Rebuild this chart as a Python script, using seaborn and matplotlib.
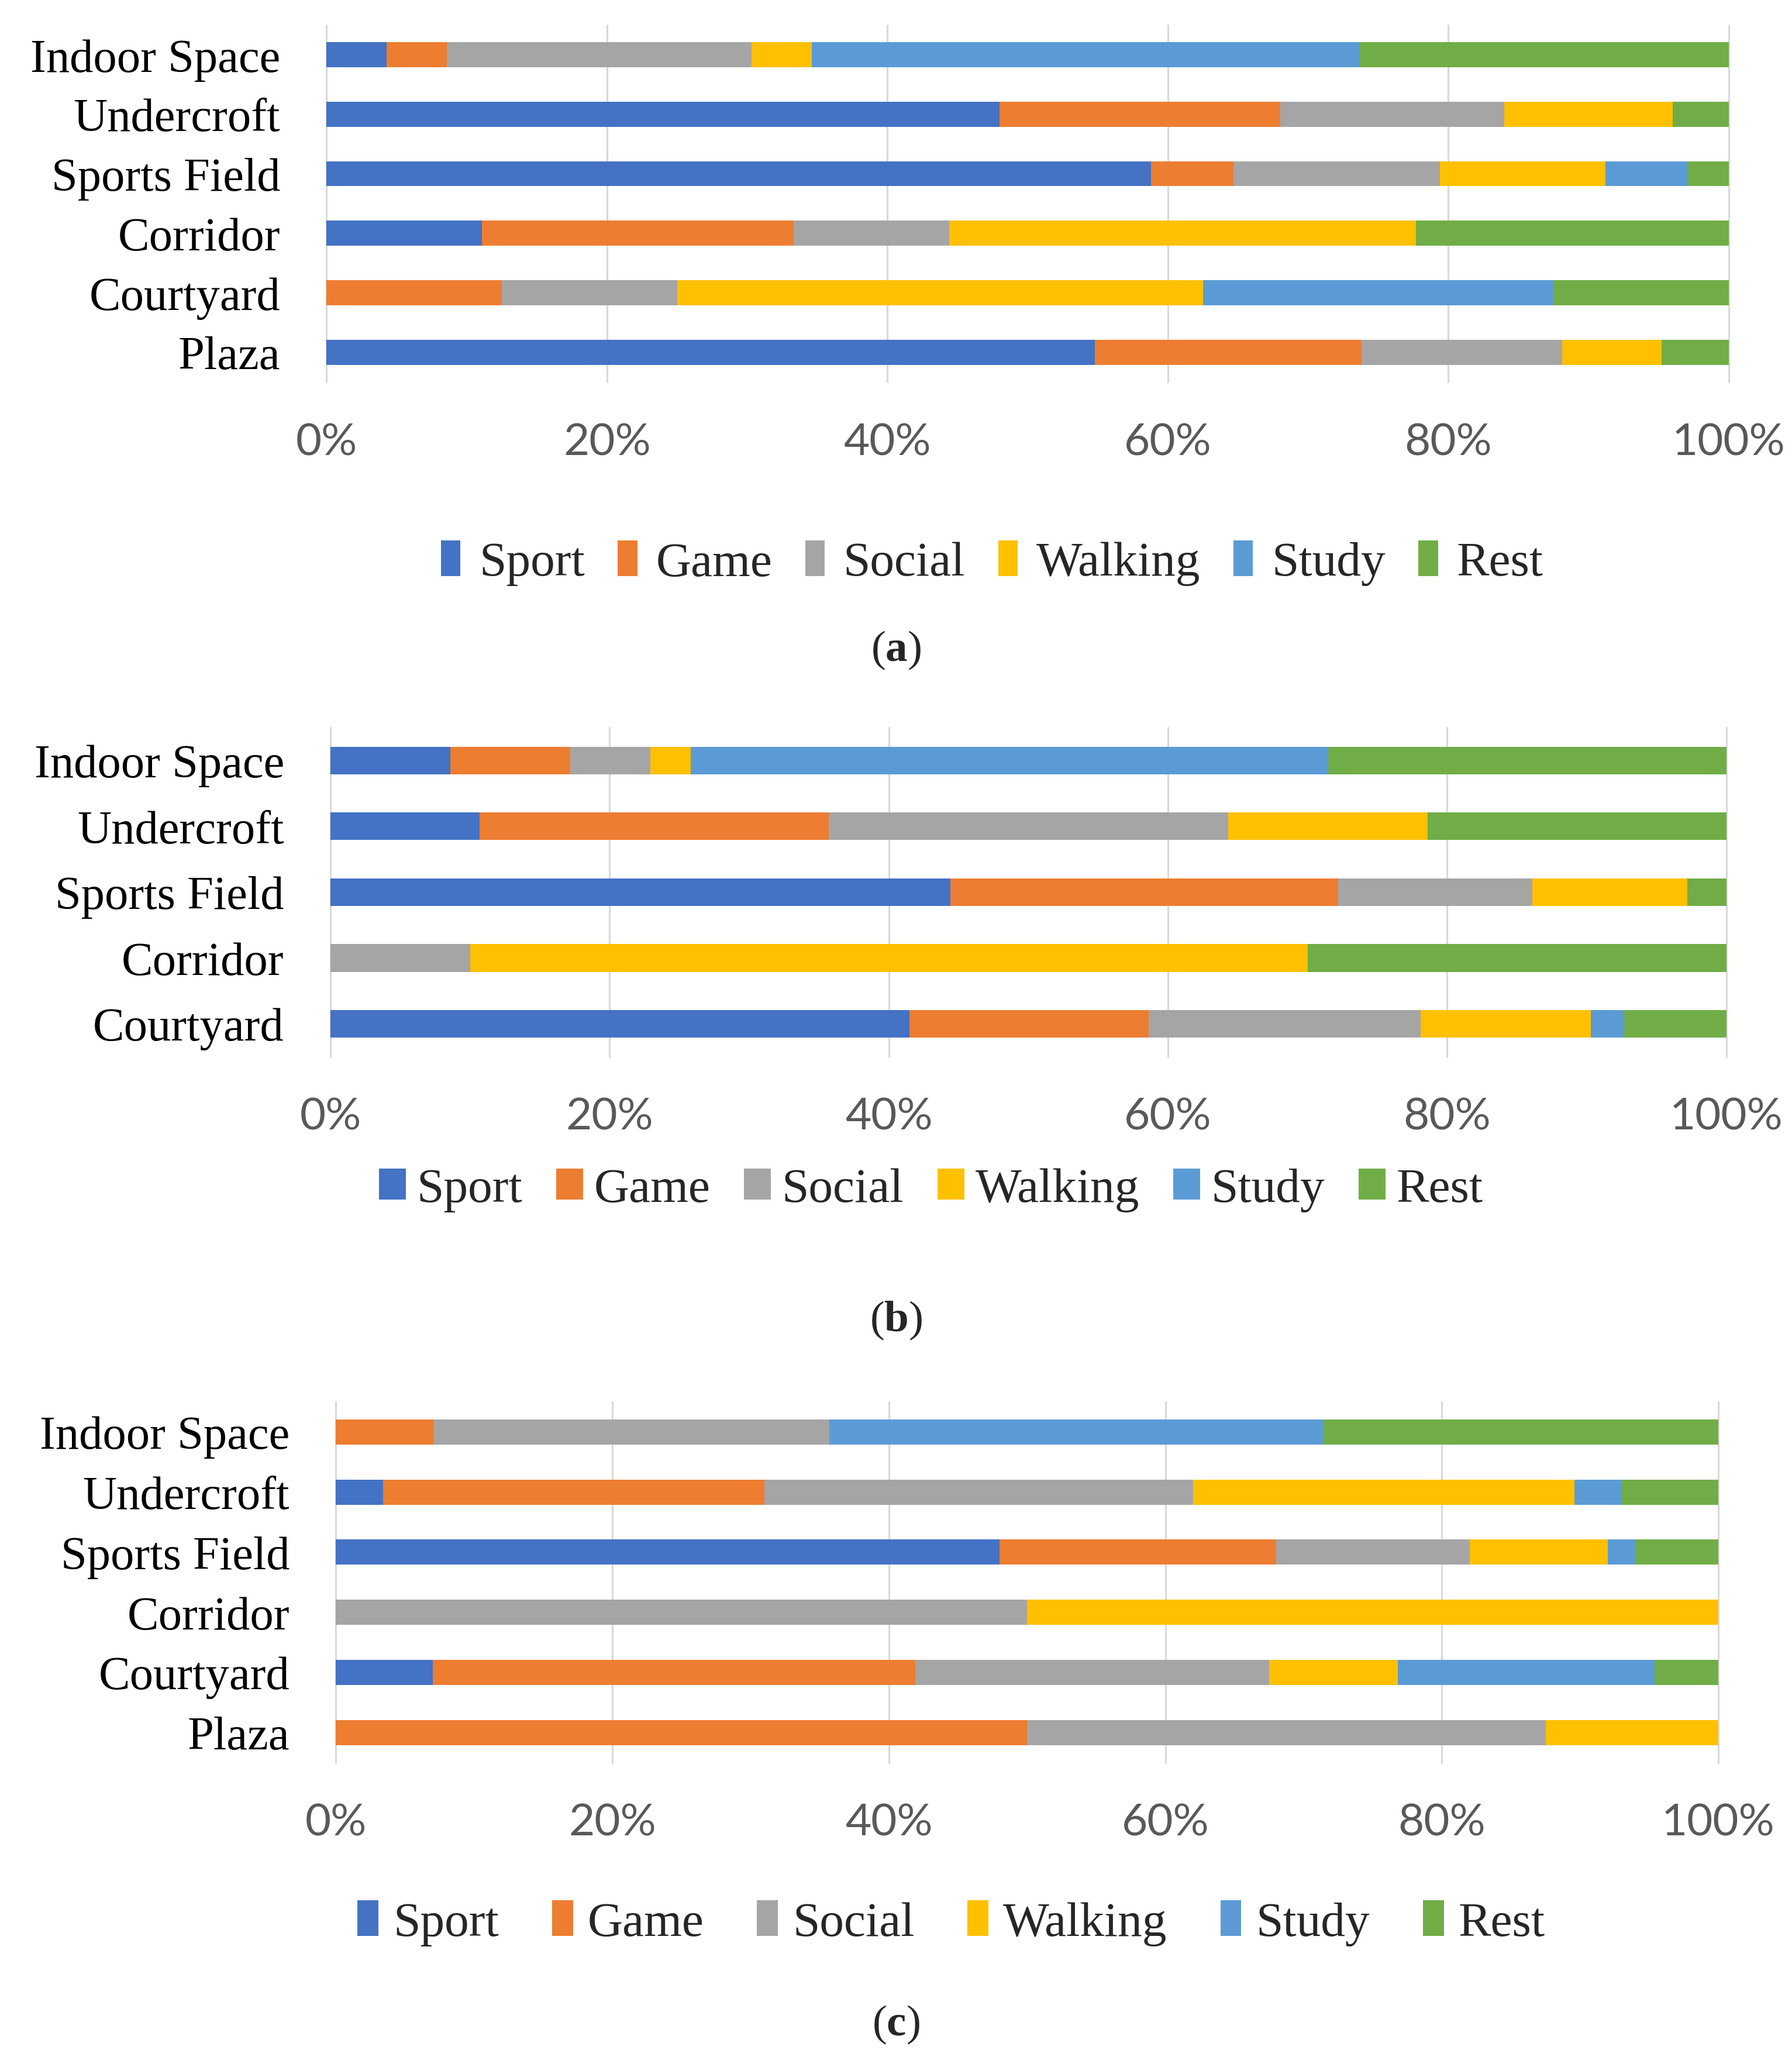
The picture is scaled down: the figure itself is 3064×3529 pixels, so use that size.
import matplotlib
matplotlib.use("Agg")
import matplotlib.pyplot as plt
from matplotlib.patches import Patch
import seaborn as sns
import pandas as pd

activities = ["Sport", "Game", "Social", "Walking", "Study", "Rest"]
colors = ["#4472C4", "#ED7D31", "#A5A5A5", "#FFC000", "#5B9BD5", "#70AD47"]

# panel (a) - share of each activity (%)
places_a = ["Indoor Space", "Undercroft", "Sports Field", "Corridor", "Courtyard", "Plaza"]
sport_a = [4.3, 48.0, 58.8, 11.1, 0.0, 54.8]
game_a = [4.3, 20.0, 5.9, 22.2, 12.5, 19.0]
social_a = [21.7, 16.0, 14.7, 11.1, 12.5, 14.3]
walking_a = [4.3, 12.0, 11.8, 33.3, 37.5, 7.1]
study_a = [39.1, 0.0, 5.9, 0.0, 25.0, 0.0]
rest_a = [26.3, 4.0, 2.9, 22.3, 12.5, 4.8]

# panel (b)
places_b = ["Indoor Space", "Undercroft", "Sports Field", "Corridor", "Courtyard"]
sport_b = [8.6, 10.7, 44.4, 0.0, 41.5]
game_b = [8.6, 25.0, 27.8, 0.0, 17.1]
social_b = [5.7, 28.6, 13.9, 10.0, 19.5]
walking_b = [2.9, 14.3, 11.1, 60.0, 12.2]
study_b = [45.7, 0.0, 0.0, 0.0, 2.4]
rest_b = [28.5, 21.4, 2.8, 30.0, 7.3]

# panel (c)
places_c = ["Indoor Space", "Undercroft", "Sports Field", "Corridor", "Courtyard", "Plaza"]
sport_c = [0.0, 3.4, 48.0, 0.0, 7.0, 0.0]
game_c = [7.1, 27.6, 20.0, 0.0, 34.9, 50.0]
social_c = [28.6, 31.0, 14.0, 50.0, 25.6, 37.5]
walking_c = [0.0, 27.6, 10.0, 50.0, 9.3, 12.5]
study_c = [35.7, 3.4, 2.0, 0.0, 18.6, 0.0]
rest_c = [28.6, 7.0, 6.0, 0.0, 4.6, 0.0]

ticks = [0, 20, 40, 60, 80, 100]
tick_labels = ["0%", "20%", "40%", "60%", "80%", "100%"]

sns.set_style("white")
plt.rcParams["font.family"] = ["Liberation Serif", "DejaVu Serif"]
plt.rcParams["mathtext.fontset"] = "custom"
plt.rcParams["mathtext.rm"] = "Liberation Serif"
plt.rcParams["mathtext.bf"] = "Liberation Serif:bold"

SERIF = "Liberation Serif"
SANS = "Lato"


def draw_panel(ax, places, shares):
    df = pd.DataFrame(dict(zip(activities, shares)))
    cum = df.cumsum(axis=1)
    cum["place"] = places
    # draw the running totals from the longest down, so each segment shows
    for act, col in reversed(list(zip(activities, colors))):
        sns.barplot(data=cum, x=act, y="place", order=places, orient="h",
                    color=col, saturation=1, width=0.42, linewidth=0,
                    errorbar=None, ax=ax)
    ax.set_xlim(0, 100)
    ax.set_ylim(len(places) - 0.5, -0.5)
    ax.set_xticks(ticks)
    ax.set_xticklabels(tick_labels, fontfamily=SANS)
    ax.set_xlabel("")
    ax.set_ylabel("")
    ax.xaxis.grid(True, color="#D9D9D9", linewidth=2.3)
    ax.yaxis.grid(False)
    ax.set_axisbelow(True)
    for gl in ax.get_xgridlines():
        gl.set_clip_on(False)
    ax.tick_params(axis="x", length=0, pad=49, labelsize=55, labelcolor="#595959")
    ax.tick_params(axis="y", length=0, pad=57, labelsize=58, labelcolor="black")
    for lab in ax.get_yticklabels():
        lab.set_fontfamily(SERIF)
    sns.despine(ax=ax, left=True, bottom=True)


fig = plt.figure(figsize=(30.64, 35.30), dpi=100)
ax_a = fig.add_axes([0.1822, 0.8147, 0.7825, 0.1729])
ax_b = fig.add_axes([0.1844, 0.4879, 0.7789, 0.1594])
ax_c = fig.add_axes([0.1874, 0.1460, 0.7715, 0.1747])

draw_panel(ax_a, places_a, [sport_a, game_a, social_a, walking_a, study_a, rest_a])
draw_panel(ax_b, places_b, [sport_b, game_b, social_b, walking_b, study_b, rest_b])
draw_panel(ax_c, places_c, [sport_c, game_c, social_c, walking_c, study_c, rest_c])

handles = [Patch(facecolor=c, edgecolor="none") for c in colors]
# x, y, handle length, handle height, text pad, column spacing
legend_pos = [(0.5536, 0.727, 0.40, 0.75, 0.38, 0.68),
              (0.5195, 0.4235, 0.55, 0.6, 0.22, 0.70),
              (0.5309, 0.0683, 0.43, 0.75, 0.30, 1.09)]
for x, y, hl, hh, tp, cs in legend_pos:
    fig.legend(handles, activities, loc="center", bbox_to_anchor=(x, y), ncol=6,
               frameon=False, prop={"family": SERIF, "size": 60},
               handlelength=hl, handleheight=hh, handletextpad=tp, columnspacing=cs)

for lab, y in [("a", 0.685), ("b", 0.3603), ("c", 0.0191)]:
    fig.text(0.5, y, r"($\mathbf{" + lab + r"}$)", ha="center", va="center", fontsize=54)

fig.savefig("out.png", dpi=100)
